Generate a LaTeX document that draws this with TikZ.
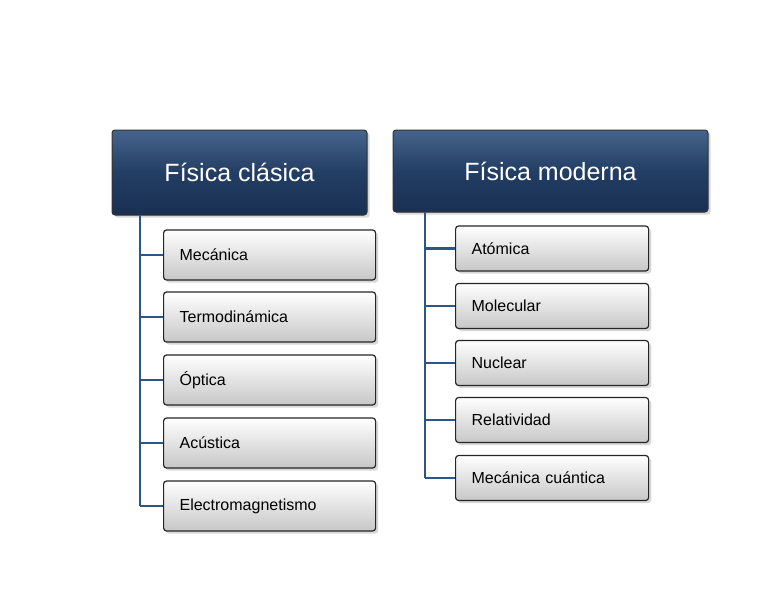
\documentclass[tikz,border=0pt]{standalone}
\usepackage{fontspec}
\setmainfont{Liberation Sans}
\usetikzlibrary{shadows}
\definecolor{hdtop}{RGB}{70,100,140}
\definecolor{hdmid}{RGB}{35,62,100}
\definecolor{hdbot}{RGB}{25,48,82}
\definecolor{trk}{RGB}{45,85,135}
\tikzset{
 hdr/.style={draw=black!80,line width=1pt,rounded corners=3pt,top color=hdtop,bottom color=hdbot,middle color=hdmid,font=\fontsize{25}{28}\selectfont,text=white,drop shadow={opacity=0.3}},
 item/.style={draw=black!85,line width=1.2pt,rounded corners=3pt,top color=white,bottom color=black!22,font=\fontsize{16}{19}\selectfont,anchor=west,align=left,inner xsep=16pt,drop shadow={opacity=0.3}},
 trunk/.style={draw=trk,line width=2.5pt}
}
\begin{document}
\begin{tikzpicture}[x=1pt,y=-1pt]
\useasboundingbox (0,0) rectangle (768,594);
\fill[white] (0,0) rectangle (768,594);
\node[hdr,minimum width=255pt,minimum height=85pt] (L) at (239.5,172.5) {Física clásica};
\node[hdr,minimum width=315pt,minimum height=82pt] (R) at (550.5,171) {Física moderna};
\foreach \n/\t/\y in {l1/Mecánica/255,l2/Termodinámica/317,l3/Óptica/380,l4/Acústica/443,l5/Electromagnetismo/506}{
 \node[item,minimum width=212pt,minimum height=50pt,text width=180pt] (\n) at (163,\y) {\t};
}
\foreach \n/\t/\y in {r1/Atómica/248.5,r2/Molecular/306,r3/Nuclear/363,r4/Relatividad/420,r5/Mecánica cuántica/478}{
 \node[item,minimum width=193pt,minimum height=45pt,text width=161pt] (\n) at (455,\y) {\t};
}
\coordinate (lt) at (140,215);
\coordinate (rt) at (425,212);
\draw[trunk] (lt) -- (lt|-l5.west);
\draw[trunk] (rt) -- (rt|-r5.west);
\foreach \n in {l1,l2,l3,l4,l5}{\draw[trunk] (lt|-\n.west) -- (\n.west);}
\foreach \n in {r1,r2,r3,r4,r5}{\draw[trunk] (rt|-\n.west) -- (\n.west);}
\end{tikzpicture}
\end{document}
